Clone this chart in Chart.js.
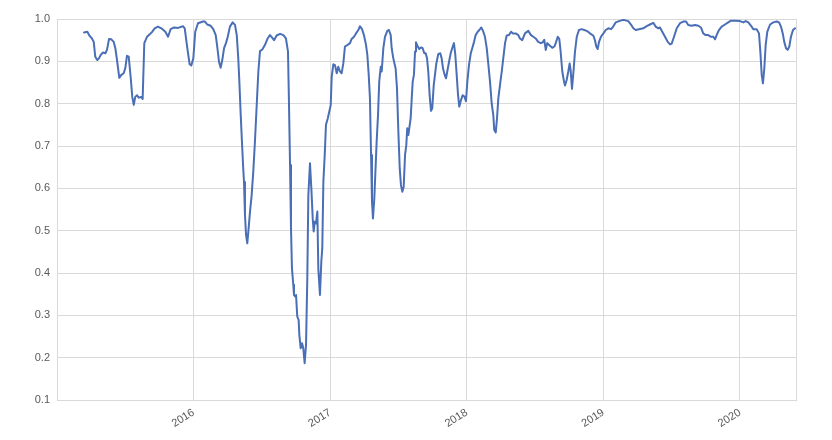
<!DOCTYPE html>
<html>
<head>
<meta charset="utf-8">
<script src="https://cdn.jsdelivr.net/npm/chart.js@4"></script>
<style>
  html, body { margin: 0; padding: 0; background: #ffffff; }
  #wrap { width: 832px; height: 440px; }
</style>
</head>
<body>
<div id="wrap"><canvas id="c" width="832" height="440"></canvas></div>
<script>
// Time positions (decimal years) and values
const years = [
2015.198,2015.222,2015.239,2015.256,2015.269,2015.280,2015.295,2015.307,2015.320,2015.337,
2015.354,2015.366,2015.381,2015.398,2015.415,2015.427,2015.441,2015.456,2015.471,2015.488,
2015.500,2015.512,2015.525,2015.540,2015.551,2015.562,2015.573,2015.586,2015.598,2015.617,
2015.627,2015.639,2015.659,2015.679,2015.695,2015.715,2015.739,2015.764,2015.793,2015.813,
2015.832,2015.857,2015.886,2015.922,2015.935,2015.954,2015.971,2015.983,2015.998,2016.012,
2016.032,2016.069,2016.083,2016.100,2016.125,2016.144,2016.162,2016.173,2016.186,2016.198,
2016.210,2016.223,2016.237,2016.250,2016.266,2016.286,2016.303,2016.316,2016.327,2016.335,
2016.345,2016.354,2016.362,2016.369,2016.376,2016.384,2016.393,2016.403,2016.413,2016.425,
2016.437,2016.449,2016.462,2016.474,2016.486,2016.503,2016.523,2016.542,2016.559,2016.572,
2016.589,2016.608,2016.633,2016.657,2016.676,2016.691,2016.698,2016.706,2016.713,2016.720,
2016.730,2016.735,2016.745,2016.750,2016.759,2016.769,2016.774,2016.784,2016.794,2016.803,
2016.813,2016.823,2016.832,2016.840,2016.852,2016.862,2016.872,2016.879,2016.887,2016.896,
2016.906,2016.913,2016.925,2016.935,2016.942,2016.950,2016.960,2016.969,2016.982,2016.993,
2017.004,2017.011,2017.023,2017.035,2017.048,2017.059,2017.072,2017.084,2017.096,2017.108,
2017.128,2017.145,2017.157,2017.174,2017.189,2017.206,2017.218,2017.233,2017.247,2017.262,
2017.272,2017.282,2017.291,2017.299,2017.306,2017.313,2017.323,2017.333,2017.340,2017.350,
2017.359,2017.370,2017.377,2017.389,2017.401,2017.418,2017.430,2017.443,2017.450,2017.462,
2017.479,2017.489,2017.499,2017.509,2017.518,2017.528,2017.538,2017.548,2017.557,2017.564,
2017.572,2017.579,2017.589,2017.597,2017.604,2017.613,2017.621,2017.628,2017.641,2017.652,
2017.665,2017.677,2017.689,2017.699,2017.709,2017.718,2017.728,2017.738,2017.747,2017.758,
2017.767,2017.777,2017.791,2017.806,2017.816,2017.826,2017.838,2017.848,2017.857,2017.870,
2017.882,2017.897,2017.906,2017.916,2017.926,2017.936,2017.945,2017.958,2017.970,2017.982,
2017.994,2018.004,2018.016,2018.029,2018.040,2018.053,2018.065,2018.080,2018.092,2018.106,
2018.119,2018.133,2018.146,2018.157,2018.170,2018.182,2018.194,2018.201,2018.212,2018.221,
2018.231,2018.243,2018.256,2018.267,2018.280,2018.292,2018.309,2018.324,2018.338,2018.358,
2018.377,2018.389,2018.406,2018.426,2018.450,2018.470,2018.487,2018.504,2018.523,2018.541,
2018.556,2018.567,2018.578,2018.589,2018.609,2018.626,2018.641,2018.651,2018.666,2018.677,
2018.687,2018.699,2018.712,2018.719,2018.731,2018.743,2018.753,2018.761,2018.770,2018.780,
2018.792,2018.805,2018.821,2018.841,2018.860,2018.878,2018.895,2018.909,2018.926,2018.938,
2018.948,2018.958,2018.968,2018.982,2019.000,2019.017,2019.036,2019.056,2019.072,2019.090,
2019.114,2019.146,2019.182,2019.202,2019.219,2019.236,2019.261,2019.292,2019.317,2019.341,
2019.365,2019.383,2019.402,2019.414,2019.431,2019.451,2019.471,2019.488,2019.500,2019.517,
2019.537,2019.561,2019.585,2019.605,2019.621,2019.646,2019.671,2019.695,2019.714,2019.731,
2019.749,2019.768,2019.788,2019.805,2019.817,2019.829,2019.846,2019.866,2019.890,2019.914,
2019.934,2019.963,2020.000,2020.024,2020.042,2020.061,2020.081,2020.097,2020.122,2020.139,
2020.149,2020.159,2020.168,2020.178,2020.188,2020.200,2020.220,2020.244,2020.269,2020.286,
2020.300,2020.313,2020.324,2020.337,2020.349,2020.361,2020.373,2020.388,2020.403
];
const values = [
0.968,0.970,0.960,0.954,0.946,0.911,0.903,0.907,0.915,0.921,
0.919,0.927,0.953,0.952,0.946,0.931,0.899,0.861,0.868,0.872,
0.884,0.913,0.911,0.860,0.816,0.797,0.816,0.820,0.814,0.816,
0.811,0.943,0.958,0.964,0.969,0.978,0.982,0.978,0.970,0.958,
0.976,0.980,0.979,0.983,0.978,0.931,0.893,0.890,0.907,0.970,
0.990,0.994,0.994,0.987,0.984,0.976,0.962,0.935,0.899,0.885,
0.903,0.931,0.943,0.958,0.982,0.992,0.986,0.962,0.907,0.852,
0.773,0.710,0.655,0.615,0.537,0.490,0.470,0.506,0.545,0.584,
0.640,0.710,0.797,0.876,0.924,0.928,0.939,0.954,0.962,0.957,
0.950,0.961,0.965,0.962,0.954,0.923,0.805,0.655,0.506,0.411,
0.372,0.348,0.344,0.348,0.297,0.289,0.254,0.222,0.234,0.222,
0.187,0.230,0.380,0.584,0.659,0.600,0.529,0.498,0.521,0.517,
0.545,0.411,0.348,0.427,0.458,0.616,0.679,0.750,0.765,0.781,
0.797,0.864,0.893,0.891,0.872,0.887,0.876,0.872,0.895,0.935,
0.939,0.943,0.953,0.958,0.966,0.974,0.983,0.976,0.962,0.939,
0.915,0.868,0.813,0.679,0.569,0.529,0.576,0.655,0.710,0.773,
0.852,0.887,0.876,0.931,0.958,0.972,0.974,0.962,0.931,0.907,
0.883,0.836,0.734,0.647,0.608,0.592,0.604,0.679,0.702,0.742,
0.726,0.742,0.765,0.813,0.852,0.868,0.923,0.945,0.935,0.929,
0.933,0.931,0.919,0.919,0.907,0.876,0.820,0.783,0.789,0.844,
0.868,0.895,0.917,0.919,0.907,0.883,0.868,0.860,0.876,0.899,
0.919,0.935,0.943,0.915,0.868,0.820,0.793,0.809,0.820,0.817,
0.806,0.852,0.891,0.919,0.931,0.946,0.962,0.970,0.974,0.980,
0.972,0.958,0.931,0.895,0.852,0.801,0.773,0.738,0.732,0.765,
0.813,0.844,0.876,0.907,0.943,0.961,0.962,0.970,0.966,0.966,
0.962,0.954,0.950,0.966,0.972,0.962,0.958,0.954,0.946,0.943,
0.945,0.951,0.927,0.943,0.937,0.932,0.935,0.943,0.958,0.953,
0.923,0.876,0.852,0.843,0.856,0.876,0.895,0.876,0.835,0.872,
0.923,0.958,0.974,0.976,0.974,0.972,0.968,0.964,0.961,0.950,
0.935,0.929,0.946,0.958,0.966,0.974,0.978,0.976,0.982,0.992,
0.995,0.998,0.995,0.987,0.978,0.974,0.976,0.978,0.983,0.987,
0.991,0.982,0.978,0.980,0.970,0.958,0.946,0.940,0.942,0.958,
0.978,0.990,0.994,0.994,0.986,0.984,0.986,0.984,0.980,0.966,
0.962,0.962,0.958,0.958,0.952,0.962,0.974,0.982,0.987,0.992,
0.996,0.996,0.995,0.992,0.995,0.992,0.984,0.976,0.976,0.966,
0.923,0.868,0.848,0.883,0.939,0.970,0.987,0.992,0.994,0.992,
0.982,0.966,0.946,0.931,0.927,0.935,0.958,0.974,0.978
];
const yearTicks = [2016, 2017, 2018, 2019, 2020];
const xMin = 2015.0, xMax = 2020.41;
const yMin = 0.1, yMax = 1.0, yStep = 0.1;

const gridColor = '#d9d9d9';
const labelColor = '#595959';
const font = { family: "'Liberation Sans', Arial, sans-serif", size: 11 };

new Chart(document.getElementById('c'), {
  type: 'line',
  data: {
    datasets: [{
      data: years.map((x, i) => ({ x: x, y: values[i] })),
      borderColor: '#4a6fb6',
      borderWidth: 2,
      borderJoinStyle: 'round',
      borderCapStyle: 'round',
      pointRadius: 0,
      tension: 0,
      fill: false
    }]
  },
  options: {
    responsive: false,
    animation: false,
    layout: { padding: { left: 0, right: 36, top: 19, bottom: 0 } },
    plugins: { legend: { display: false }, tooltip: { enabled: false } },
    scales: {
      x: {
        type: 'linear',
        min: xMin,
        max: xMax,
        afterBuildTicks: (s) => {
          s.ticks = yearTicks.map(v => ({ value: v })).concat([{ value: xMax }]);
        },
        afterFit: (s) => { s.height = 40; },
        grid: { color: gridColor, lineWidth: 1, drawTicks: false },
        border: { color: gridColor },
        ticks: {
          autoSkip: false,
          minRotation: 32,
          maxRotation: 32,
          padding: 6,
          color: labelColor,
          font: font,
          callback: (v) => (yearTicks.includes(v) ? String(v) : '')
        }
      },
      y: {
        type: 'linear',
        min: yMin,
        max: yMax,
        afterFit: (s) => { s.width = 57; },
        grid: { color: gridColor, lineWidth: 1, drawTicks: false },
        border: { color: gridColor },
        ticks: {
          stepSize: yStep,
          padding: 7,
          color: labelColor,
          font: font,
          callback: (v) => Number(v).toFixed(1)
        }
      }
    }
  }
});
</script>
</body>
</html>
